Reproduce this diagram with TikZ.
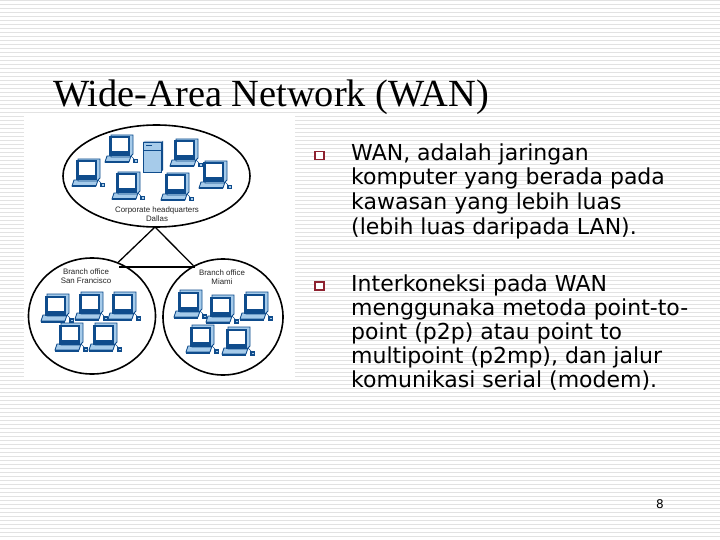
\documentclass[tikz,border=0pt]{standalone}
\usepackage{fontspec}
\setmainfont{Liberation Serif}
\newfontfamily\bodyfont{DejaVu Sans}
\newfontfamily\labelfont{Liberation Sans}
\usetikzlibrary{shapes.geometric}
\definecolor{stripe}{HTML}{E2E2E2}
\definecolor{pcdark}{HTML}{0F4C8C}
\definecolor{pclight}{HTML}{A6CBEA}
\definecolor{bullet}{HTML}{8E2230}
\tikzset{
  x=1pt,y=-1pt,
  site/.style={ellipse,draw=black,line width=1.6pt,inner sep=0pt,minimum width=#1},
  link/.style={draw=black,line width=1.3pt},
  bodyline/.style={anchor=base west,inner sep=0pt,font=\bodyfont\fontsize{22}{24}\selectfont,text=black},
  lbl/.style={inner sep=0pt,font=\labelfont\fontsize{7.9}{9}\selectfont,text=black!85},
  bulletbox/.style={draw=bullet,line width=1.6pt,fill=white,minimum width=9.5pt,minimum height=8pt,inner sep=0pt},
  pics/pc/.style={code={
    % keyboard base
    \fill[pclight,draw=pcdark,line width=.9pt] (-1,21)--(23,21)--(21,27)--(-3,27)--cycle;
    \fill[pcdark] (-3,26.5)--(21,26.5)--(21,28.5)--(-3,28.5)--cycle;
    % monitor side panel
    \fill[pclight,draw=pcdark,line width=.9pt] (3,0)--(25,0)--(25,19)--(22,22)--(3,22)--cycle;
    % monitor front
    \fill[pcdark] (1,1.5)--(22,1.5)--(22,21.5)--(1,21.5)--cycle;
    \fill[white] (3.5,3.5)--(20,3.5)--(20,16.5)--(3.5,16.5)--cycle;
    % mouse
    \fill[pcdark] (25,24)--(30,24)--(30,28.5)--(25,28.5)--cycle;
    \fill[pclight] (26.5,25.5)--(28.5,25.5)--(28.5,27)--(26.5,27)--cycle;
    \draw[pcdark,line width=.6pt] (23,21)--(26,24);
  }}
}
\begin{document}
\begin{tikzpicture}
\useasboundingbox (0,0) rectangle (720,540);
\fill[white] (0,0) rectangle (720,540);
\foreach \k in {0,...,134} {
  \fill[stripe] (0,{4*\k}) rectangle (720,{4*\k+1});
}
\fill[white] (24,114) rectangle (295,378);

\node[anchor=base west,inner sep=0pt,font=\fontsize{38.4}{40}\selectfont] (title) at (53,107) {Wide-Area Network (WAN)};

\node[site=187pt,minimum height=102pt] (hq) at (156.5,176) {};
\node[site=127pt,minimum height=116pt] (sf) at (92,316) {};
\node[site=120pt,minimum height=116pt] (mia) at (223,317) {};
\coordinate (apex) at (155,227);
\coordinate (hl) at (119,267);
\coordinate (hr) at (195,267);
\draw[link] (apex) -- (sf.64);
\draw[link] (apex) -- (mia.120);
\draw[link] (hl) -- (hr);

\foreach \px/\py in {108/135,75/159,115/172,173/139,202/161,164/173,
  44/294,78/292,111/292,58/323,92/323,
  177/290,209/295,243/292,189/325,225/327} {
  \pic at (\px,\py) {pc};
}
% server
\fill[pclight,draw=pcdark,line width=.9pt] (143,142) rectangle (161,172);
\fill[pcdark] (161,142)--(163,141)--(163,170)--(161,172)--cycle;
\fill[pcdark!40] (143,142)--(145,141)--(163,141)--(161,142)--cycle;
\draw[pcdark,line width=.7pt] (143,150)--(161,150) (146,145.5)--(152,145.5);

\node[lbl] (l1) at (157,210.5) {Corporate headquarters};
\node[lbl] (l2) at (157,219) {Dallas};
\node[lbl] (l3) at (86,272) {Branch office};
\node[lbl] (l4) at (86,281) {San Francisco};
\node[lbl] (l5) at (222,273) {Branch office};
\node[lbl] (l6) at (222,282) {Miami};

\node[bulletbox] (b1) at (319.5,155.5) {};
\node[bulletbox] (b2) at (319.5,286) {};

\node[bodyline] (t1) at (351,161) {WAN, adalah jaringan};
\node[bodyline] (t2) at (351,185) {komputer yang berada pada};
\node[bodyline] (t3) at (351,210) {kawasan yang lebih luas};
\node[bodyline] (t4) at (351,234) {(lebih luas daripada LAN).};
\node[bodyline] (t5) at (351,291) {Interkoneksi pada WAN};
\node[bodyline] (t6) at (351,315) {menggunaka metoda point-to-};
\node[bodyline] (t7) at (351,339) {point (p2p) atau point to};
\node[bodyline] (t8) at (351,363) {multipoint (p2mp), dan jalur};
\node[bodyline] (t9) at (351,387) {komunikasi serial (modem).};

\node[anchor=base,inner sep=0pt,font=\bodyfont\fontsize{12}{14}\selectfont] (pg) at (660,508) {8};
\end{tikzpicture}
\end{document}
